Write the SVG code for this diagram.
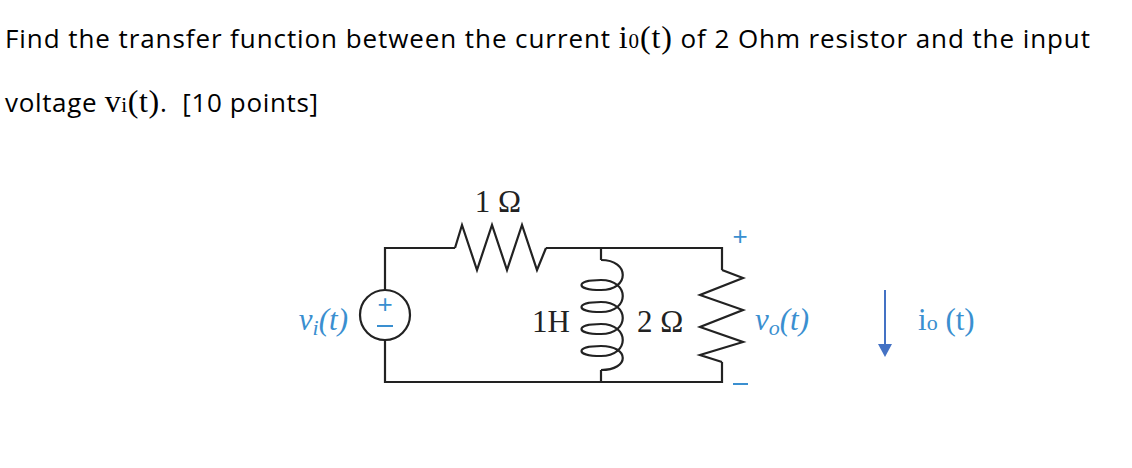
<svg xmlns="http://www.w3.org/2000/svg" width="1132" height="468" viewBox="0 0 1132 468">
<style>
.q{font-family:"Open Sans","Liberation Sans",sans-serif;font-size:26px;fill:#000}
.s{font-family:"Liberation Serif",serif}
.w{fill:none;stroke:#222;stroke-width:2.2;stroke-linejoin:miter}
.lb{font-family:"Liberation Serif",serif;font-size:31px;fill:#222}
.bl{font-family:"Liberation Serif",serif;font-size:31px;fill:#3a8fd0}
</style>
<rect width="1132" height="468" fill="#fff"/>
<g id="question">
<text class="q" x="5" y="48" textLength="1085" lengthAdjust="spacing">Find the transfer function between the current <tspan class="s" font-size="32">i</tspan><tspan class="s" font-size="21">0</tspan><tspan class="s" font-size="32">(t)</tspan> of 2 Ohm resistor and the input</text>
<text class="q" x="5" y="112" xml:space="preserve" textLength="313" lengthAdjust="spacing">voltage <tspan class="s" font-size="32">v</tspan><tspan class="s" font-size="21">i</tspan><tspan class="s" font-size="32">(t)</tspan>.  [10 points]</text>
</g>
<g id="connectors">
<path class="w" d="M385 290 V248 H455 M546 248 H722 V270 M722 362 V382 H385 V340 M601 248 V260 M601 370 V382"/>
</g>
<g id="source">
<circle class="w" cx="385" cy="315" r="25"/>
<text x="385" y="313" text-anchor="middle" font-family="Liberation Sans,sans-serif" font-size="26" fill="#3a8fd0">+</text>
<line x1="377" y1="326" x2="393" y2="326" stroke="#3a8fd0" stroke-width="2"/>
<text class="bl" x="348" y="330" text-anchor="end" font-style="italic">v<tspan font-size="22" dy="5">i</tspan><tspan dy="-5">(t)</tspan></text>
</g>
<g id="R1">
<path class="w" d="M455 248 L462 225 L477 270 L492 225 L507 270 L522 225 L537 270 L546 248"/>
<text class="lb" x="498" y="212" text-anchor="middle">1 Ω</text>
</g>
<g id="L1">
<path class="w" d="M601 260 C630 260 630 290 601 290 C575 290 575 280 601 280 C630 280 630 312 601 312 C575 312 575 302 601 302 C630 302 630 334 601 334 C575 334 575 324 601 324 C630 324 630 356 601 356 C575 356 575 346 601 346 C630 346 630 370 601 370"/>
<text class="lb" x="570" y="332" text-anchor="end">1H</text>
</g>
<g id="R2">
<path class="w" d="M722 270 L743 278 L700 295 L743 310 L700 327 L743 342 L700 355 L722 362"/>
<text class="lb" x="637" y="332">2 Ω</text>
<text x="740" y="245" text-anchor="middle" font-family="Liberation Sans,sans-serif" font-size="26" fill="#3a8fd0">+</text>
<line x1="733" y1="384" x2="748" y2="384" stroke="#3a8fd0" stroke-width="2"/>
<text class="bl" x="755" y="330" font-style="italic">v<tspan font-size="22" dy="5">o</tspan><tspan dy="-5">(t)</tspan></text>
</g>
<g id="current">
<line x1="885" y1="290" x2="885" y2="345" stroke="#4472c4" stroke-width="2"/>
<polygon points="878,344 892,344 885,357" fill="#4472c4"/>
<text class="bl" x="918" y="330">i<tspan font-size="22">o</tspan> (t)</text>
</g>
</svg>
